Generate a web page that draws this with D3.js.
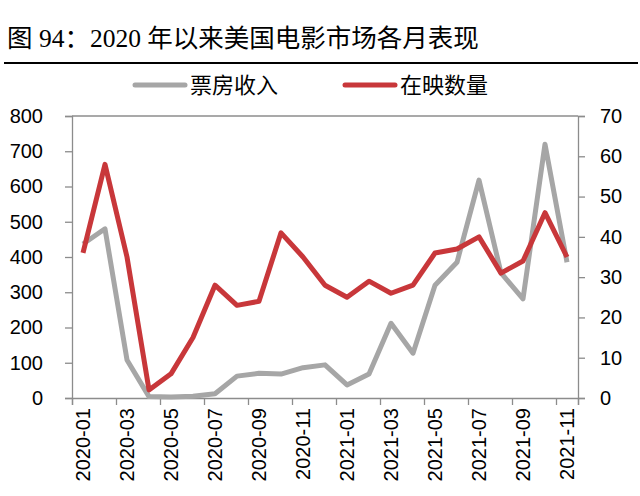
<!DOCTYPE html>
<html>
<head>
<meta charset="utf-8">
<script src="https://cdn.jsdelivr.net/npm/d3@7"></script>
<style>
  body { margin: 0; background: #fff; }
  svg text { fill: #000; }
</style>
</head>
<body>
<div id="chart"></div>
<script>
// monthly data, 2020-01 .. 2021-11
var months = ["2020-01", "2020-02", "2020-03", "2020-04", "2020-05", "2020-06", "2020-07", "2020-08",
  "2020-09", "2020-10", "2020-11", "2020-12", "2021-01", "2021-02", "2021-03", "2021-04", "2021-05",
  "2021-06", "2021-07", "2021-08", "2021-09", "2021-10", "2021-11"];
var boxOffice = [437, 480, 108, 4, 3, 5, 12, 62, 70, 68, 86, 94, 37, 68, 212, 127, 320, 385, 618, 355, 281, 720, 385];
var showing = [36, 58, 35, 2, 6, 15, 28, 23, 24, 41, 35, 28, 25, 29, 26, 28, 36, 37, 40, 31, 34, 46, 35];
var leftTicks = [0, 100, 200, 300, 400, 500, 600, 700, 800];
var rightTicks = [0, 10, 20, 30, 40, 50, 60, 70];
var seriesNames = ["票房收入", "在映数量"];

function drawChart() {
    var width = 640, height = 496;
    var left = 72, right = 578, top = 116, bottom = 398;
    var axisColor = "#8c8c8c";
    var grayColor = "#a6a6a6";
    var redColor = "#c8373a";
    var numFont = "'Liberation Sans', Arial, sans-serif";

    var svg = d3.select("#chart").append("svg")
        .attr("width", width)
        .attr("height", height);

    // title
    svg.append("text")
        .attr("x", 7)
        .attr("y", 47)
        .style("font-family", "'Liberation Serif', 'Noto Sans CJK SC', serif")
        .style("font-size", "25.5px")
        .text("图 94：2020 年以来美国电影市场各月表现");
    svg.append("line")
        .attr("x1", 4).attr("x2", 638)
        .attr("y1", 63).attr("y2", 63)
        .attr("stroke", "#000")
        .attr("stroke-width", 2);

    var x = d3.scaleBand().domain(months).range([left, right]).padding(0);
    var xIdx = d3.scaleLinear().domain([0, months.length]).range([left, right]);
    var yL = d3.scaleLinear().domain([0, 800]).range([bottom, top]);
    var yR = d3.scaleLinear().domain([0, 70]).range([bottom, top]);
    var cx = function (m) { return x(m) + x.bandwidth() / 2; };

    // top border
    svg.append("line")
        .attr("x1", left).attr("x2", right)
        .attr("y1", yL(800)).attr("y2", yL(800))
        .attr("stroke", axisColor).attr("stroke-width", 1.3);

    // left axis
    var gl = svg.append("g")
        .attr("transform", "translate(" + left + ",0)")
        .call(d3.axisLeft(yL).tickValues(leftTicks).tickSize(7).tickPadding(22));
    // right axis
    var gr = svg.append("g")
        .attr("transform", "translate(" + right + ",0)")
        .call(d3.axisRight(yR).tickValues(rightTicks).tickSize(7).tickPadding(15));
    [gl, gr].forEach(function (g) {
        g.select(".domain").attr("stroke", axisColor).attr("stroke-width", 1.3);
        g.selectAll(".tick line").attr("stroke", axisColor).attr("stroke-width", 1.3);
        g.selectAll(".tick text")
            .style("font-family", numFont)
            .style("font-size", "20px")
            .attr("fill", "#000");
    });

    // bottom axis: tick marks every two months
    var tickIdx = d3.range(0, months.length + 1, 2).concat([months.length]);
    var gb = svg.append("g")
        .attr("transform", "translate(0," + bottom + ")")
        .call(d3.axisBottom(xIdx).tickValues(tickIdx).tickSize(7).tickFormat(""));
    gb.select(".domain").attr("stroke", axisColor).attr("stroke-width", 1.3);
    gb.selectAll(".tick line").attr("stroke", axisColor).attr("stroke-width", 1.3);

    // bottom labels, rotated
    var labelMonths = months.filter(function (d, i) { return i % 2 === 0; });
    var gx = svg.append("g")
        .attr("transform", "translate(0," + bottom + ")")
        .call(d3.axisBottom(x).tickValues(labelMonths).tickSize(0).tickPadding(0));
    gx.select(".domain").remove();
    gx.selectAll(".tick text")
        .attr("transform", "rotate(-90)")
        .attr("x", -10)
        .attr("y", 0)
        .attr("dy", "0.35em")
        .style("text-anchor", "end")
        .style("font-family", numFont)
        .style("font-size", "20px")
        .attr("fill", "#000");

    // lines
    var lineL = d3.line()
        .x(function (d, i) { return cx(months[i]); })
        .y(function (d) { return yL(d); });
    var lineR = d3.line()
        .x(function (d, i) { return cx(months[i]); })
        .y(function (d) { return yR(d); });

    svg.append("path")
        .datum(boxOffice)
        .attr("d", lineL)
        .attr("fill", "none")
        .attr("stroke", grayColor)
        .attr("stroke-width", 5)
        .attr("stroke-linejoin", "round");
    svg.append("path")
        .datum(showing)
        .attr("d", lineR)
        .attr("fill", "none")
        .attr("stroke", redColor)
        .attr("stroke-width", 5)
        .attr("stroke-linejoin", "round");

    // legend
    var legend = [
        { name: seriesNames[0], color: grayColor, x: 135 },
        { name: seriesNames[1], color: redColor, x: 345 }
    ];
    var lg = svg.selectAll(".legend")
        .data(legend)
        .enter()
        .append("g")
        .attr("class", "legend")
        .attr("transform", function (d) { return "translate(" + d.x + ",85)"; });
    lg.append("line")
        .attr("x1", 0).attr("x2", 50)
        .attr("stroke", function (d) { return d.color; })
        .attr("stroke-width", 5)
        .attr("stroke-linecap", "round");
    lg.append("text")
        .attr("x", 55)
        .attr("dy", "0.36em")
        .style("font-family", "'Noto Sans CJK SC', sans-serif")
        .style("font-size", "22px")
        .text(function (d) { return d.name; });
}

window.addEventListener('load', function () {
    drawChart();
});
</script>
</body>
</html>
